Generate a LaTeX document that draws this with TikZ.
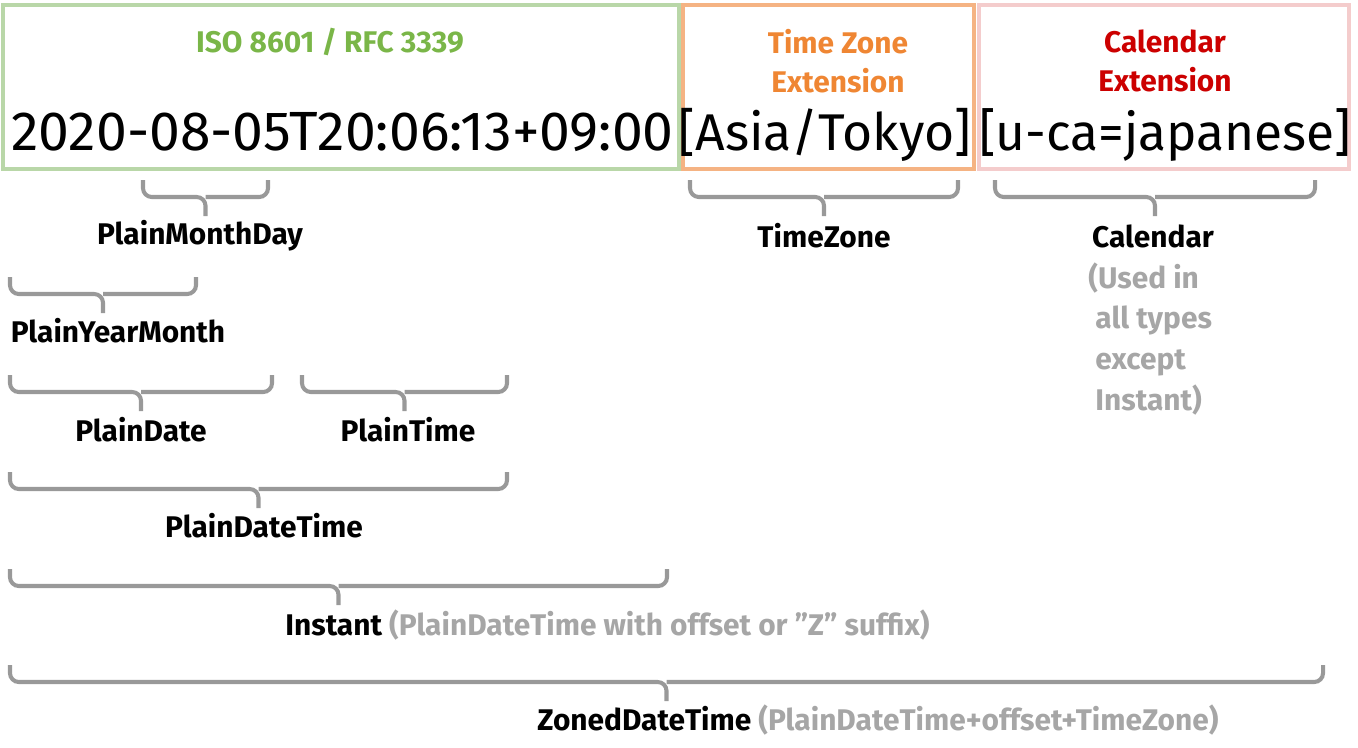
\documentclass[tikz,border=0pt]{standalone}
\usepackage{fontspec}
\setmainfont{Fira Sans}
\definecolor{gbox}{HTML}{B9D7A8}
\definecolor{obox}{HTML}{F5B383}
\definecolor{pbox}{HTML}{F4CCCC}
\definecolor{gtxt}{HTML}{7AB648}
\definecolor{otxt}{HTML}{EF8633}
\definecolor{rtxt}{HTML}{CC0000}
\definecolor{brc}{HTML}{999999}
\definecolor{gl}{HTML}{A6A6A6}
\tikzset{
 frame/.style={draw, line width=2.3pt},
 lbl/.style={font=\fontsize{17}{20}\selectfont\bfseries, inner sep=0pt},
 head/.style={font=\fontsize{17}{22}\selectfont\bfseries, align=center, inner sep=0pt},
 big/.style={font=\fontsize{31}{34}\selectfont, inner sep=0pt, anchor=base west},
 brace/.style={draw=brc, line width=2.3pt, rounded corners=5pt}
}
\newcommand{\mybrace}[3]{% x1 x2 ytop
 \pgfmathsetmacro{\mid}{(#1+#2)/2}
 \draw[brace] (#1,#3) -- (#1,#3+17) -- (\mid,#3+17) -- (\mid,#3+36);
 \draw[brace] (#2,#3) -- (#2,#3+17) -- (\mid,#3+17);}
\begin{document}
\begin{tikzpicture}[x=0.02cm,y=-0.02cm]
\useasboundingbox (0,0) rectangle (1358,747);
\draw[frame,gbox] (3,5) rectangle (679,169);
\draw[frame,obox] (683,5) rectangle (974,169);
\draw[frame,pbox] (979,5) rectangle (1349,169);
\node[head,gtxt] (h1) at (330,42) {ISO 8601 / RFC 3339};
\node[head,otxt] (h2) at (838,61) {Time Zone\\Extension};
\node[head,rtxt] (h3) at (1165,61) {Calendar\\Extension};
\node[big] (t1) at (11,150) {\resizebox{13.25cm}{!}{2020-08-05T20:06:13+09:00}};
\node[big] (t2) at (678,150) {\resizebox{5.86cm}{!}{[Asia/Tokyo]}};
\node[big] (t3) at (979,150) {\resizebox{7.44cm}{!}{[u-ca=japanese]}};
\mybrace{143}{268}{180}
\mybrace{690}{958}{180}
\mybrace{995}{1315}{180}
\mybrace{10}{196}{277}
\mybrace{10}{272}{375}
\mybrace{302}{507}{375}
\mybrace{10}{507}{472}
\mybrace{10}{667}{569}
\mybrace{10}{1323}{665}
\node[lbl] (l1) at (200,236) {PlainMonthDay};
\node[lbl] (l2) at (824,236) {TimeZone};
\node[lbl] (l3) at (1153,236) {Calendar};
\node[lbl,gl,anchor=north west,align=left,font=\fontsize{17}{23.3}\selectfont\bfseries] (l3b) at (1088,262) {(Used in\\\ all types\\\ except\\\ Instant)};
\node[lbl] (l4) at (118,331) {PlainYearMonth};
\node[lbl] (l5) at (141,430) {PlainDate};
\node[lbl] (l6) at (408,430) {PlainTime};
\node[lbl] (l7) at (264,526) {PlainDateTime};
\node[lbl,anchor=west] (l8) at (285,625) {Instant \textcolor{gl}{(PlainDateTime with offset or \char34Z\char34{} suffix)}};
\node[lbl,anchor=west] (l9) at (537,720) {ZonedDateTime \textcolor{gl}{(PlainDateTime+offset+TimeZone)}};
\end{tikzpicture}
\end{document}
